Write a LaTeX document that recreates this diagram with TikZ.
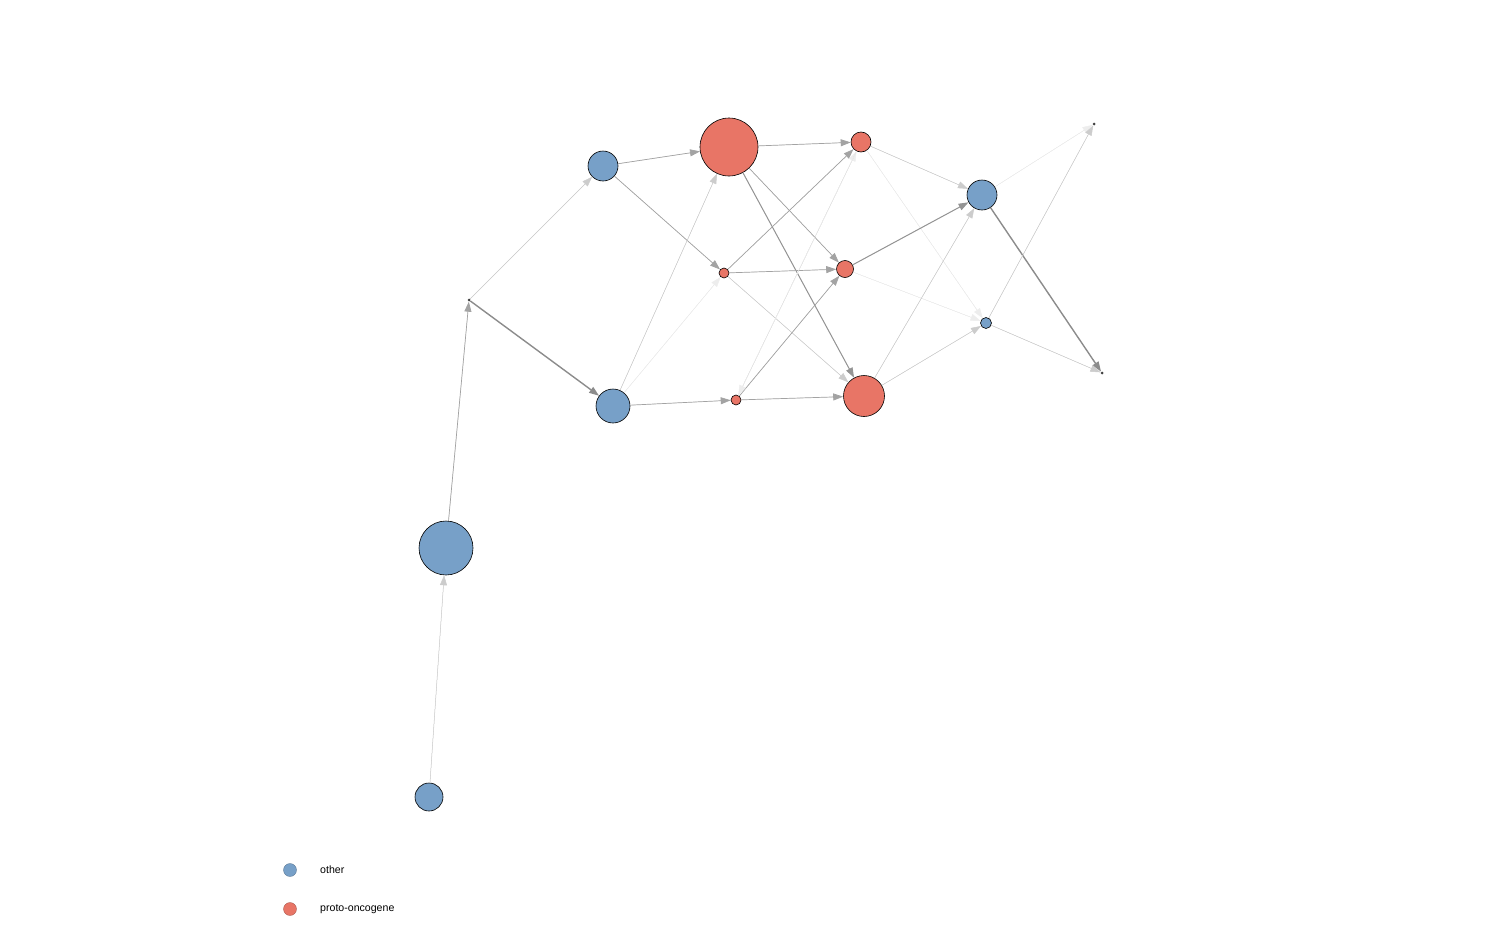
\documentclass[tikz,border=0pt]{standalone}
\usepackage{fontspec}
\setmainfont{Liberation Sans}
\usetikzlibrary{arrows.meta}

\tikzstyle{gene-point}=[circle, draw=black, line width=0.6pt, inner sep=0pt]
\tikzstyle{gene-dot}=[circle, fill=black!75, inner sep=0pt, minimum size=3pt]
\tikzstyle{legend-point}=[circle, inner sep=0pt, minimum size=13pt, line width=0.3pt]
\tikzstyle{edge}=[-{Triangle[length=10pt,width=7pt]}]
\tikzstyle{edge-faint}=[edge, draw=black!7, fill=black!30, line width=0.4pt]
\tikzstyle{edge-light}=[edge, draw=black!20, fill=black!38, line width=0.5pt]
\tikzstyle{edge-mid}=[edge, draw=black!36, fill=black!40, line width=0.7pt]
\tikzstyle{edge-dark}=[edge, draw=black!42, fill=black!42, line width=1pt]
\tikzstyle{edge-heavy}=[edge, draw=black!45, fill=black!45, line width=1.4pt]
\definecolor{GraphBlue}{HTML}{77A0C8}
\definecolor{GraphRed}{HTML}{E87566}

\begin{document}
\begin{tikzpicture}
      \useasboundingbox (0pt, 0pt) rectangle (1500pt, -937pt);

      \node (gene-1)  at ( 429pt, -797pt) [gene-point, fill={GraphBlue}, minimum size=28pt] {};
      \node (gene-2)  at ( 446pt, -548pt) [gene-point, fill={GraphBlue}, minimum size=54pt] {};
      \node (gene-3)  at ( 469pt, -300pt) [gene-dot] {};
      \node (gene-4)  at ( 603pt, -166pt) [gene-point, fill={GraphBlue}, minimum size=30pt] {};
      \node (gene-5)  at ( 613pt, -406pt) [gene-point, fill={GraphBlue}, minimum size=34pt] {};
      \node (gene-6)  at ( 729pt, -147pt) [gene-point, fill={GraphRed},  minimum size=58pt] {};
      \node (gene-7)  at ( 724pt, -273pt) [gene-point, fill={GraphRed},  minimum size=10pt] {};
      \node (gene-8)  at ( 736pt, -400pt) [gene-point, fill={GraphRed},  minimum size=10pt] {};
      \node (gene-9)  at ( 861pt, -142pt) [gene-point, fill={GraphRed},  minimum size=20pt] {};
      \node (gene-10) at ( 845pt, -269pt) [gene-point, fill={GraphRed},  minimum size=17pt] {};
      \node (gene-11) at ( 864pt, -396pt) [gene-point, fill={GraphRed},  minimum size=41pt] {};
      \node (gene-12) at ( 982pt, -195pt) [gene-point, fill={GraphBlue}, minimum size=30pt] {};
      \node (gene-13) at ( 986pt, -323pt) [gene-point, fill={GraphBlue}, minimum size=11pt] {};
      \node (gene-14) at (1094pt, -124pt) [gene-dot] {};
      \node (gene-15) at (1102pt, -373pt) [gene-dot] {};

      \draw[edge-light] (gene-1) -- (gene-2);
      \draw[edge-mid]   (gene-2) -- (gene-3);
      \draw[edge-light] (gene-3) -- (gene-4);
      \draw[edge-heavy] (gene-3) -- (gene-5);
      \draw[edge-mid]   (gene-4) -- (gene-6);
      \draw[edge-mid]   (gene-4) -- (gene-7);
      \draw[edge-light] (gene-5) -- (gene-6);
      \draw[edge-faint] (gene-5) -- (gene-7);
      \draw[edge-mid]   (gene-5) -- (gene-8);
      \draw[edge-mid]   (gene-6) -- (gene-9);
      \draw[edge-mid]   (gene-6) -- (gene-10);
      \draw[edge-dark]  (gene-6) -- (gene-11);
      \draw[edge-mid]   (gene-7) -- (gene-9);
      \draw[edge-mid]   (gene-7) -- (gene-10);
      \draw[edge-light] (gene-7) -- (gene-11);
      \draw[edge-mid]   (gene-8) -- (gene-10);
      \draw[edge-faint] (gene-8) -- (gene-9);
      \draw[edge-faint] (gene-9) -- (gene-8);
      \draw[edge-mid]   (gene-8) -- (gene-11);
      \draw[edge-light] (gene-9) -- (gene-12);
      \draw[edge-faint] (gene-9) -- (gene-13);
      \draw[edge-dark]  (gene-10) -- (gene-12);
      \draw[edge-faint] (gene-10) -- (gene-13);
      \draw[edge-light] (gene-11) -- (gene-12);
      \draw[edge-light] (gene-11) -- (gene-13);
      \draw[edge-faint] (gene-12) -- (gene-14);
      \draw[edge-heavy] (gene-12) -- (gene-15);
      \draw[edge-light] (gene-13) -- (gene-14);
      \draw[edge-light] (gene-13) -- (gene-15);

      \node (legend-1) at (290pt, -870pt) [legend-point, draw={GraphBlue!70!black}, fill={GraphBlue}, label={[label distance=20pt]right:{\fontsize{10.6}{12}\selectfont other}}] {};
      \node (legend-2) at (290pt, -909pt) [legend-point, draw={GraphRed!70!black},  fill={GraphRed},  label={[label distance=20pt]right:{\fontsize{10.6}{12}\selectfont proto-oncogene}}] {};
    \end{tikzpicture}
\end{document}
